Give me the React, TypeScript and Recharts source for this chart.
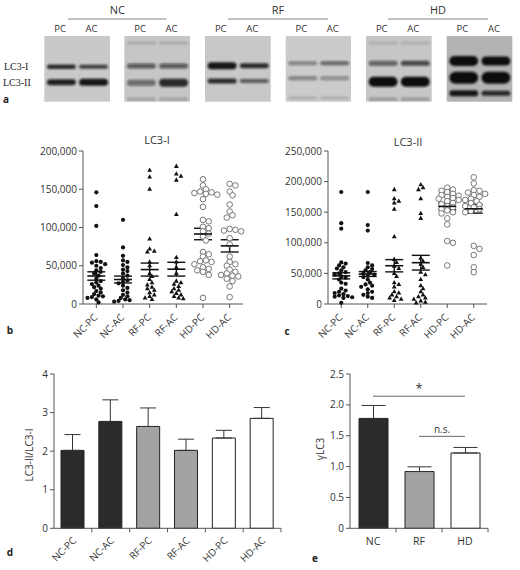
import React from "react";
import {
  ScatterChart,
  Scatter,
  ComposedChart,
  Bar,
  Cell,
  XAxis,
  YAxis,
  ErrorBar,
  ReferenceLine,
} from "recharts";

const groups = ["NC-PC", "NC-AC", "RF-PC", "RF-AC", "HD-PC", "HD-AC"];
const conditions = ["NC", "RF", "HD"];

// LC3-I densitometry (panel b)
const ncPcI = [146000, 128000, 102000, 64000, 56000, 55000, 54000, 52000, 50000, 47000, 44000, 42000, 40000, 37000, 33000, 30000, 28000, 26000, 24000, 22000, 20000, 17000, 15000, 13000, 11000, 10000, 9000, 8000, 6000, 2000];
const ncAcI = [110000, 74000, 63000, 57000, 55000, 51000, 48000, 45000, 43000, 40000, 37000, 34000, 31000, 29000, 27000, 24000, 21000, 18000, 15000, 12000, 10000, 8000, 6000, 5000, 4000, 3000];
const rfPcI = [175000, 166000, 150000, 85000, 72000, 69000, 68000, 55000, 50000, 40000, 36000, 32000, 28000, 25000, 22000, 20000, 18000, 15000, 12000, 10000, 8000, 6000];
const rfAcI = [180000, 170000, 167000, 162000, 117000, 61000, 55000, 48000, 40000, 30000, 28000, 26000, 23000, 20000, 18000, 16000, 14000, 12000, 10000, 8000, 7000];
const hdPcI = [163000, 155000, 150000, 147000, 146000, 145000, 144000, 143000, 137000, 127000, 110000, 108000, 101000, 99000, 95000, 92000, 88000, 83000, 68000, 65000, 62000, 57000, 56000, 55000, 52000, 48000, 46000, 44000, 42000, 38000, 8000];
const hdAcI = [157000, 155000, 147000, 142000, 130000, 121000, 116000, 113000, 98000, 97000, 96000, 95000, 86000, 78000, 62000, 55000, 52000, 50000, 45000, 42000, 40000, 38000, 37000, 36000, 33000, 30000, 23000, 9000];
const meanI = [36600, 32000, 45000, 45500, 91500, 76000];
const semI = [5500, 4500, 8500, 9000, 7500, 8000];

// LC3-II densitometry (panel c)
const ncPcII = [183000, 132000, 123000, 68000, 66000, 63000, 60000, 58000, 55000, 52000, 50000, 48000, 45000, 43000, 40000, 35000, 33000, 25000, 22000, 20000, 18000, 16000, 14000, 13000, 12000, 11000, 10000, 2000];
const ncAcII = [183000, 129000, 120000, 67000, 63000, 60000, 57000, 55000, 52000, 50000, 48000, 46000, 44000, 40000, 35000, 32000, 30000, 28000, 24000, 20000, 18000, 15000, 12000, 10000];
const rfPcII = [187000, 172000, 168000, 165000, 155000, 110000, 73000, 68000, 62000, 58000, 50000, 45000, 35000, 32000, 28000, 20000, 18000, 15000, 12000, 10000, 8000, 6000];
const rfAcII = [195000, 190000, 187000, 172000, 148000, 140000, 75000, 70000, 65000, 60000, 52000, 48000, 40000, 30000, 25000, 20000, 15000, 12000, 10000, 8000, 5000, 3000, 2000];
const hdPcII = [190000, 187000, 185000, 183000, 180000, 178000, 177000, 175000, 173000, 172000, 170000, 168000, 165000, 163000, 160000, 158000, 155000, 153000, 150000, 148000, 140000, 130000, 103000, 100000, 63000];
const hdAcII = [207000, 197000, 186000, 185000, 182000, 180000, 178000, 175000, 172000, 170000, 168000, 165000, 162000, 160000, 158000, 155000, 152000, 150000, 95000, 90000, 80000, 60000, 52000];
const meanII = [46000, 49000, 62500, 67500, 159500, 155500];
const semII = [5000, 4000, 10000, 12000, 5500, 7000];

// panel d and e
const ratioMean = [2.02, 2.77, 2.64, 2.02, 2.34, 2.85];
const ratioSem = [0.41, 0.56, 0.48, 0.29, 0.2, 0.28];
const gammaMean = [1.78, 0.92, 1.22];
const gammaSem = [0.21, 0.076, 0.09];

const ticksI = [0, 50000, 100000, 150000, 200000];
const ticksII = [0, 50000, 100000, 150000, 200000, 250000];
const ticksRatio = [0, 1, 2, 3, 4];
const ticksGamma = [0, 0.5, 1, 1.5, 2, 2.5];

const fills = ["#2b2b2b", "#2b2b2b", "#a3a3a3", "#a3a3a3", "#ffffff", "#ffffff"];
const condFills = ["#2b2b2b", "#a3a3a3", "#ffffff"];

const FONT = '"Open Sans", "DejaVu Sans", sans-serif';
const TXT = "#333";
const AX = "#555";

// spread points sideways so that they don't overlap (column scatter)
function swarm(values: number[], gi: number, yMax: number, gap: number) {
  const yPx = 153 / yMax;
  const xPx = 26.6;
  const placed: { px: number; py: number }[] = [];
  return [...values]
    .sort((a, b) => b - a)
    .map((v) => {
      const py = v * yPx;
      let px = 0;
      for (let k = 0; k < 40; k++) {
        const cand = k === 0 ? 0 : (k % 2 === 1 ? 1 : -1) * Math.ceil(k / 2) * gap * 0.55;
        if (placed.every((p) => Math.hypot(p.px - cand, (p.py - py) * 1.3) >= gap)) {
          px = cand;
          break;
        }
      }
      placed.push({ px, py });
      return { x: gi + px / xPx, y: v };
    });
}

const Dot = (p: any) => <circle cx={p.cx} cy={p.cy} r={2.1} fill="#111" />;
const Tri = (p: any) => (
  <path
    d={`M${p.cx},${p.cy - 2.7}L${p.cx + 2.4},${p.cy + 1.6}L${p.cx - 2.4},${p.cy + 1.6}Z`}
    fill="#111"
  />
);
const Ring = (p: any) => (
  <circle cx={p.cx} cy={p.cy} r={2.8} fill="#fff" stroke="#777" strokeWidth={1} />
);
const MeanMark = (p: any) => (
  <line x1={p.cx - 9} x2={p.cx + 9} y1={p.cy} y2={p.cy} stroke="#111" strokeWidth={1.6} />
);
const shapes = [Dot, Dot, Tri, Tri, Ring, Ring];
const gaps = [4, 4, 4.2, 4.2, 5.2, 5.2];

function RotTick(props: any) {
  const { x, y, payload } = props;
  const label = groups[payload.value] ?? "";
  const ax = x + 2;
  const ay = y + 8;
  return (
    <text
      x={ax}
      y={ay}
      transform={`rotate(-45 ${ax} ${ay})`}
      textAnchor="end"
      fontSize={10}
      fontFamily={FONT}
      fill={TXT}
    >
      {label}
    </text>
  );
}

// ticks at bar boundaries (integers), labels at bar centers (halves)
function BoundaryTick(props: any) {
  const { x, y, payload, labels, rotate } = props;
  const v = payload.value;
  if (Number.isInteger(v)) {
    return <line x1={x} x2={x} y1={y - 4} y2={y} stroke={AX} />;
  }
  const label = labels[Math.floor(v)];
  if (rotate) {
    const ax = x + 4;
    const ay = y + 9;
    return (
      <text x={ax} y={ay} transform={`rotate(-45 ${ax} ${ay})`} textAnchor="end" fontSize={10} fontFamily={FONT} fill={TXT}>
        {label}
      </text>
    );
  }
  return (
    <text x={x} y={y + 13} textAnchor="middle" fontSize={10.5} fontFamily={FONT} fill={TXT}>
      {label}
    </text>
  );
}

function SigLabel(props: any) {
  const { viewBox, text, size } = props;
  if (!viewBox) return null;
  return (
    <text
      x={viewBox.x + viewBox.width / 2}
      y={viewBox.y - 3}
      textAnchor="middle"
      fontSize={size}
      fontFamily={FONT}
      fill={TXT}
    >
      {text}
    </text>
  );
}

function DotPlot({
  sets,
  means,
  sems,
  yMax,
  ticks,
  left,
  right,
}: {
  sets: number[][];
  means: number[];
  sems: number[];
  yMax: number;
  ticks: number[];
  left: number;
  right: number;
}) {
  const meanData = means.map((m, i) => ({ x: i, y: m, err: sems[i] }));
  return (
    <ScatterChart width={260} height={235} margin={{ top: 31, right, bottom: 21, left }}>
      <XAxis
        type="number"
        dataKey="x"
        domain={[-0.5, 5.5]}
        ticks={[0, 1, 2, 3, 4, 5]}
        interval={0}
        height={30}
        tick={<RotTick />}
        tickSize={4}
        axisLine={{ stroke: AX }}
        tickLine={{ stroke: AX }}
      />
      <YAxis
        type="number"
        dataKey="y"
        domain={[0, yMax]}
        ticks={ticks}
        interval={0}
        width={50}
        tickSize={4}
        tickFormatter={(v: number) => v.toLocaleString("en-US")}
        tick={{ fontSize: 10, fill: TXT, fontFamily: FONT }}
        axisLine={{ stroke: AX }}
        tickLine={{ stroke: AX }}
      />
      {sets.map((vals, i) => (
        <Scatter
          key={groups[i]}
          data={swarm(vals, i, yMax, gaps[i])}
          shape={shapes[i]}
          isAnimationActive={false}
        />
      ))}
      <Scatter data={meanData} shape={MeanMark} isAnimationActive={false}>
        <ErrorBar dataKey="err" direction="y" width={9} stroke="#111" strokeWidth={1.4} isAnimationActive={false} />
      </Scatter>
    </ScatterChart>
  );
}

const blotBoxes = [
  { x: 44.3, w: 65.7, bg: "#c9c9c9" },
  { x: 124.3, w: 65.7, bg: "#c6c6c6" },
  { x: 205, w: 65.7, bg: "#c8c8c8" },
  { x: 285.7, w: 65.3, bg: "#cbcbcb" },
  { x: 366, w: 65.7, bg: "#c6c6c6" },
  { x: 446.7, w: 65.6, bg: "#b3b3b3" },
];
// [box, lane, y, h, opacity]
const blotBands: number[][] = [
  [0, 0, 66.7, 4.5, 0.85], [0, 1, 66.7, 4, 0.75], [0, 0, 82.3, 6, 0.9], [0, 1, 82.3, 7, 0.95],
  [1, 0, 43, 3, 0.15], [1, 1, 43, 3, 0.15], [1, 0, 66, 5, 0.6], [1, 1, 66, 5, 0.6],
  [1, 0, 82.7, 6, 0.5], [1, 1, 82.7, 8, 0.85], [1, 0, 99, 3, 0.2], [1, 1, 99, 3, 0.2],
  [2, 0, 65.7, 7, 0.95], [2, 1, 65.7, 5, 0.85], [2, 0, 81, 5, 0.85], [2, 1, 81, 4, 0.6],
  [3, 0, 63.3, 4, 0.4], [3, 1, 63.3, 4, 0.55], [3, 0, 78.3, 4, 0.4], [3, 1, 78.3, 4, 0.35],
  [3, 0, 98, 3, 0.15], [3, 1, 98, 3, 0.15],
  [4, 0, 43, 3, 0.12], [4, 1, 43, 3, 0.12], [4, 0, 63.3, 5, 0.55], [4, 1, 63.3, 5, 0.7],
  [4, 0, 81.7, 10, 1], [4, 1, 81.7, 10, 1], [4, 0, 99, 3, 0.25], [4, 1, 99, 3, 0.25],
  [5, 0, 61, 10, 1], [5, 1, 61, 9, 1], [5, 0, 77.7, 12, 1], [5, 1, 77.7, 12, 1],
  [5, 0, 93.3, 6, 0.95], [5, 1, 93.3, 5, 0.85],
];

function Blots() {
  return (
    <svg width={520} height={110} style={{ position: "absolute", left: 0, top: 0 }}>
      <defs>
        <filter id="blur" x="-20%" y="-100%" width="140%" height="300%">
          <feGaussianBlur stdDeviation="1.1" />
        </filter>
      </defs>
      {[
        { t: "NC", x1: 68, x2: 166.7 },
        { t: "RF", x1: 228, x2: 328 },
        { t: "HD", x1: 388, x2: 488 },
      ].map((g) => (
        <g key={g.t}>
          <text x={(g.x1 + g.x2) / 2} y={14} textAnchor="middle" fontSize={11} fontFamily={FONT} fill={TXT}>
            {g.t}
          </text>
          <line x1={g.x1} x2={g.x2} y1={19} y2={19} stroke="#666" strokeWidth={0.8} />
        </g>
      ))}
      {blotBoxes.map((b, i) => (
        <g key={i}>
          <text x={b.x + b.w * 0.24} y={32} textAnchor="middle" fontSize={9.5} fontFamily={FONT} fill={TXT}>
            PC
          </text>
          <text x={b.x + b.w * 0.72} y={32} textAnchor="middle" fontSize={9.5} fontFamily={FONT} fill={TXT}>
            AC
          </text>
          <rect x={b.x} y={36} width={b.w} height={65.7} fill={b.bg} />
        </g>
      ))}
      <g filter="url(#blur)">
        {blotBands.map(([bi, lane, y, h, o], i) => {
          const b = blotBoxes[bi];
          const lw = b.w * 0.44;
          const lx = b.x + b.w * 0.04 + lane * b.w * 0.49;
          return <rect key={i} x={lx} y={y - h / 2} width={lw} height={h} rx={h / 2} fill="#111" opacity={o} />;
        })}
      </g>
      <text x={4} y={70} fontSize={10} fontFamily="Liberation Serif, serif" fill="#222">LC3-I</text>
      <text x={3} y={86} fontSize={10} fontFamily="Liberation Serif, serif" fill="#222">LC3-II</text>
      <text x={3} y={103} fontSize={10} fontWeight="bold" fontFamily={FONT} fill="#222">a</text>
    </svg>
  );
}

export default function App() {
  const ratioData = ratioMean.map((v, i) => ({ x: i + 0.5, v, err: [0, ratioSem[i]] }));
  const gammaData = gammaMean.map((v, i) => ({ x: i + 0.5, v, err: [0, gammaSem[i]] }));

  return (
    <div
      style={{
        position: "absolute",
        left: 0,
        top: 0,
        width: 520,
        height: 570,
        background: "#fff",
        fontFamily: FONT,
        overflow: "hidden",
      }}
    >
      <Blots />

      {/* b: LC3-I */}
      <div style={{ position: "absolute", left: 0, top: 120 }}>
        <DotPlot
          sets={[ncPcI, ncAcI, rfPcI, rfAcI, hdPcI, hdAcI]}
          means={meanI}
          sems={semI}
          yMax={200000}
          ticks={ticksI}
          left={33}
          right={17}
        />
      </div>

      {/* c: LC3-II */}
      <div style={{ position: "absolute", left: 260, top: 120 }}>
        <DotPlot
          sets={[ncPcII, ncAcII, rfPcII, rfAcII, hdPcII, hdAcII]}
          means={meanII}
          sems={semII}
          yMax={250000}
          ticks={ticksII}
          left={18}
          right={33}
        />
      </div>

      {/* d: ratio */}
      <div style={{ position: "absolute", left: 0, top: 340 }}>
        <ComposedChart width={300} height={230} data={ratioData} margin={{ top: 34, right: 19, bottom: 1.7, left: 24 }}>
          <XAxis
            type="number"
            dataKey="x"
            domain={[0, 6]}
            ticks={[0.5, 1, 1.5, 2, 2.5, 3, 3.5, 4, 4.5, 5, 5.5, 6]}
            interval={0}
            height={40}
            tickSize={4}
            tickMargin={0}
            tickLine={false}
            axisLine={{ stroke: AX }}
            tick={<BoundaryTick labels={groups} rotate />}
          />
          <YAxis
            type="number"
            domain={[0, 4]}
            ticks={ticksRatio}
            interval={0}
            width={30}
            tickSize={4}
            tick={{ fontSize: 10, fill: TXT, fontFamily: FONT }}
            axisLine={{ stroke: AX }}
            tickLine={{ stroke: AX }}
          />
          <Bar dataKey="v" barSize={23} stroke="#222" strokeWidth={1} isAnimationActive={false}>
            {ratioData.map((d, i) => (
              <Cell key={i} fill={fills[i]} />
            ))}
            <ErrorBar dataKey="err" direction="y" width={8} stroke="#333" strokeWidth={1} isAnimationActive={false} />
          </Bar>
        </ComposedChart>
      </div>

      {/* e: gamma LC3 */}
      <div style={{ position: "absolute", left: 300, top: 340 }}>
        <ComposedChart width={220} height={230} data={gammaData} margin={{ top: 34, right: 32, bottom: 1.7, left: 20 }}>
          <XAxis
            type="number"
            dataKey="x"
            domain={[0, 3]}
            ticks={[0.5, 1, 1.5, 2, 2.5, 3]}
            interval={0}
            height={40}
            tickSize={4}
            tickMargin={0}
            tickLine={false}
            axisLine={{ stroke: AX }}
            tick={<BoundaryTick labels={conditions} />}
          />
          <YAxis
            type="number"
            domain={[0, 2.5]}
            ticks={ticksGamma}
            interval={0}
            width={30}
            tickSize={4}
            tickFormatter={(v: number) => (v === 0 ? "0" : v.toFixed(1))}
            tick={{ fontSize: 10, fill: TXT, fontFamily: FONT }}
            axisLine={{ stroke: AX }}
            tickLine={{ stroke: AX }}
          />
          <Bar dataKey="v" barSize={29} stroke="#222" strokeWidth={1} isAnimationActive={false}>
            {gammaData.map((d, i) => (
              <Cell key={i} fill={condFills[i]} />
            ))}
            <ErrorBar dataKey="err" direction="y" width={12} stroke="#333" strokeWidth={1} isAnimationActive={false} />
          </Bar>
          <ReferenceLine
            segment={[{ x: 0.5, y: 2.14 }, { x: 2.5, y: 2.14 }]}
            stroke="#666"
            label={<SigLabel text="*" size={13} />}
          />
          <ReferenceLine
            segment={[{ x: 1.5, y: 1.49 }, { x: 2.5, y: 1.49 }]}
            stroke="#666"
            label={<SigLabel text="n.s." size={10} />}
          />
        </ComposedChart>
      </div>

      {/* titles, axis labels and panel letters */}
      <svg width={520} height={570} style={{ position: "absolute", left: 0, top: 0, pointerEvents: "none" }}>
        <text x={157} y={144} textAnchor="middle" fontSize={11} fontFamily={FONT} fill={TXT}>LC3-I</text>
        <text x={408} y={146} textAnchor="middle" fontSize={11} fontFamily={FONT} fill={TXT}>LC3-II</text>
        <text x={10} y={334} textAnchor="middle" fontSize={10} fontWeight="bold" fontFamily={FONT} fill="#222">b</text>
        <text x={287} y={335} textAnchor="middle" fontSize={10} fontWeight="bold" fontFamily={FONT} fill="#222">c</text>
        <text x={10} y={556} textAnchor="middle" fontSize={10} fontWeight="bold" fontFamily={FONT} fill="#222">d</text>
        <text x={315} y={562} textAnchor="middle" fontSize={10} fontWeight="bold" fontFamily={FONT} fill="#222">e</text>
        <text x={33} y={455} transform="rotate(-90 33 455)" textAnchor="middle" fontSize={10} fontFamily={FONT} fill={TXT}>LC3-II/LC3-I</text>
        <text x={324} y={449} transform="rotate(-90 324 449)" textAnchor="middle" fontSize={10} fontFamily={FONT} fill={TXT}>γLC3</text>
      </svg>
    </div>
  );
}
